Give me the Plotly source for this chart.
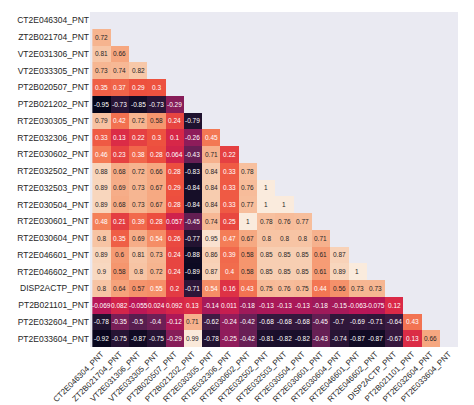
import plotly.graph_objects as go

labels = ["CT2E046304_PNT", "ZT2B021704_PNT", "VT2E031306_PNT", "VT2E033305_PNT",
          "PT2B020507_PNT", "PT2B021202_PNT", "RT2E030305_PNT", "RT2E032306_PNT",
          "RT2E030602_PNT", "RT2E032502_PNT", "RT2E032503_PNT", "RT2E030504_PNT",
          "RT2E030601_PNT", "RT2E030604_PNT", "RT2E046601_PNT", "RT2E046602_PNT",
          "DISP2ACTP_PNT", "PT2B021101_PNT", "PT2E032604_PNT", "PT2E033604_PNT"]

# lower triangle of the correlation matrix, row by row (diagonal excluded)
lower = [
    [],
    [0.72],
    [0.81, 0.66],
    [0.73, 0.74, 0.82],
    [0.35, 0.37, 0.29, 0.3],
    [-0.95, -0.73, -0.85, -0.73, -0.29],
    [0.79, 0.42, 0.72, 0.58, 0.24, -0.79],
    [0.33, 0.13, 0.22, 0.3, 0.1, -0.26, 0.45],
    [0.46, 0.23, 0.38, 0.28, 0.064, -0.43, 0.71, 0.22],
    [0.88, 0.68, 0.72, 0.66, 0.28, -0.83, 0.84, 0.33, 0.78],
    [0.89, 0.69, 0.73, 0.67, 0.29, -0.84, 0.84, 0.33, 0.76, 1],
    [0.89, 0.68, 0.73, 0.67, 0.28, -0.84, 0.84, 0.33, 0.77, 1, 1],
    [0.48, 0.21, 0.39, 0.28, 0.057, -0.45, 0.74, 0.25, 1, 0.78, 0.76, 0.77],
    [0.8, 0.35, 0.69, 0.54, 0.26, -0.77, 0.95, 0.47, 0.67, 0.8, 0.8, 0.8, 0.71],
    [0.89, 0.6, 0.81, 0.73, 0.24, -0.88, 0.86, 0.39, 0.58, 0.85, 0.85, 0.85, 0.61, 0.87],
    [0.9, 0.58, 0.8, 0.72, 0.24, -0.89, 0.87, 0.4, 0.58, 0.85, 0.85, 0.85, 0.61, 0.89, 1],
    [0.8, 0.64, 0.57, 0.55, 0.2, -0.71, 0.54, 0.16, 0.43, 0.75, 0.76, 0.75, 0.44, 0.56, 0.73, 0.73],
    [-0.069, 0.082, -0.055, 0.024, 0.092, 0.13, -0.14, 0.011, -0.18, -0.13, -0.13, -0.13, -0.18,
     -0.15, -0.063, -0.075, 0.12],
    [-0.78, -0.35, -0.5, -0.4, -0.12, 0.71, -0.62, -0.24, -0.42, -0.68, -0.68, -0.68, -0.45,
     -0.7, -0.69, -0.71, -0.64, 0.43],
    [-0.92, -0.75, -0.87, -0.75, -0.29, 0.99, -0.78, -0.25, -0.42, -0.81, -0.82, -0.82, -0.43,
     -0.74, -0.87, -0.87, -0.67, 0.13, 0.66],
]

rocket = ["#03051A", "#221331", "#451C47", "#691F55", "#921C5B", "#B91657",
          "#D92847", "#ED503E", "#F47D57", "#F6A47C", "#F7C9AA", "#FAEBDD"]
cscale = [[i / (len(rocket) - 1), c] for i, c in enumerate(rocket)]

n = len(labels)
z = [row + [None] * (n - len(row)) for row in lower]
vmin = min(v for row in lower for v in row)
vmax = max(v for row in lower for v in row)

annotations = []
for i, row in enumerate(lower):
    for j, v in enumerate(row):
        t = (v - vmin) / (vmax - vmin)
        annotations.append(dict(x=labels[j], y=labels[i], text=f"{v:.2g}", showarrow=False,
                                font=dict(family="Liberation Sans Narrow, Arial", size=6.5,
                                          color="#262626" if t > 0.77 else "white")))

fig = go.Figure(go.Heatmap(z=z, x=labels, y=labels, colorscale=cscale, zmin=vmin, zmax=vmax,
                           showscale=False, hoverongaps=False, xgap=0, ygap=0))
fig.update_layout(
    width=474, height=405,
    margin=dict(l=82, r=24, t=4, b=66),
    paper_bgcolor="white", plot_bgcolor="#EAEAF2",
    font=dict(family="Liberation Sans, Arial", size=8, color="#262626"),
    annotations=annotations,
)
fig.update_xaxes(tickangle=-45, showgrid=False, zeroline=False, ticks="", tickfont=dict(size=8))
fig.update_yaxes(autorange="reversed", showgrid=False, zeroline=False, ticks="", tickfont=dict(size=8.5))
fig.write_html("out.html")
